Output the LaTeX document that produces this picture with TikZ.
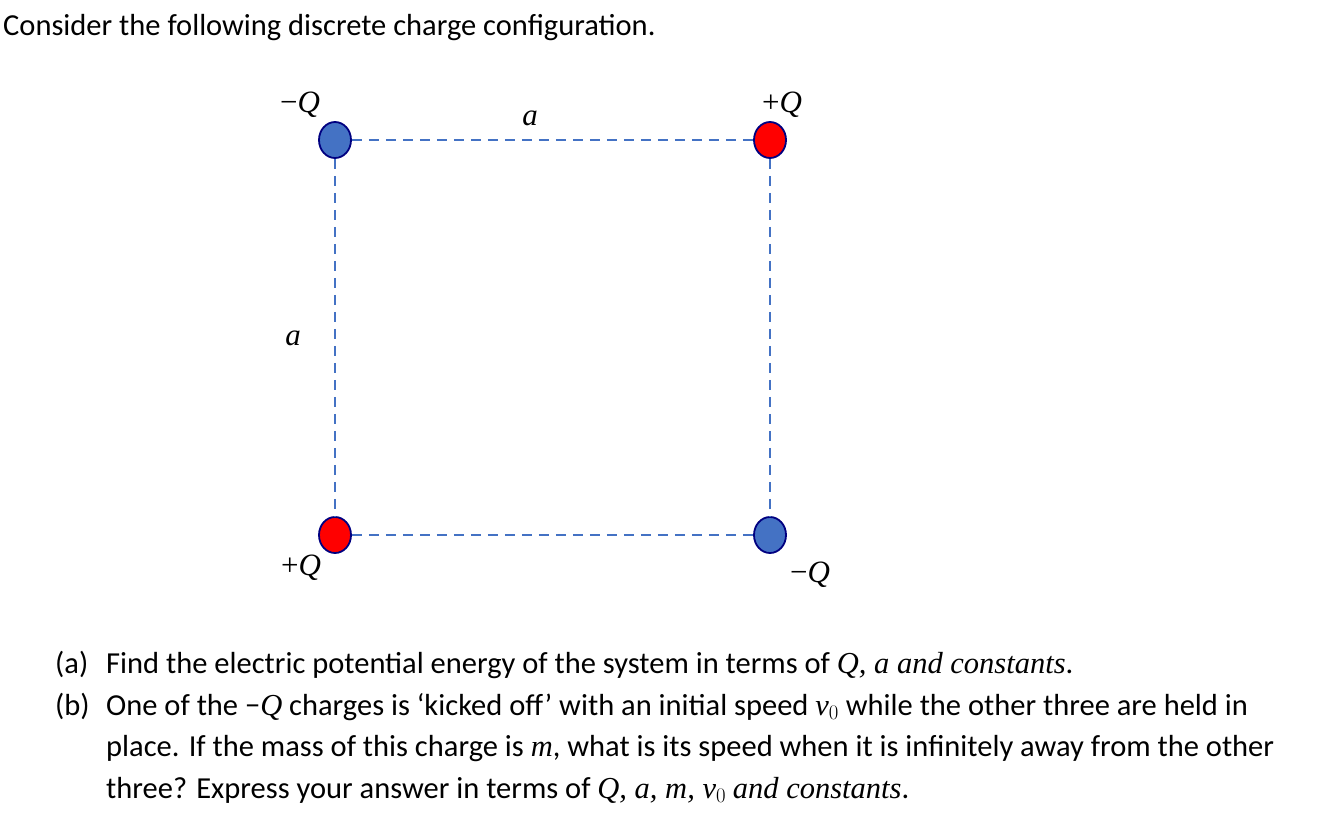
\documentclass[tikz,border=0pt]{standalone}
\usepackage{fontspec}
\usetikzlibrary{shapes.geometric}
\setmainfont{Carlito}
\newfontfamily\mathf{Liberation Serif}
\newcommand{\mi}[1]{{\mathf\itshape #1}}
\begin{document}
\begin{tikzpicture}[x=1pt,y=-1pt,
  chg/.style={ellipse,minimum width=32pt,minimum height=36pt,inner sep=0pt,draw=blue!50!black,line width=1.8pt},
  negchg/.style={chg,fill={rgb,255:red,68;green,114;blue,196}},
  poschg/.style={chg,fill=red},
  dl/.style={dash pattern=on 10pt off 7pt,line width=2pt,draw={rgb,255:red,68;green,114;blue,196}},
  lab/.style={font=\fontsize{31}{34}\selectfont\mathf\itshape,inner sep=0pt},
  txt/.style={font=\fontsize{30.5}{34}\selectfont,anchor=base west,inner sep=0pt}]
\useasboundingbox (0,0) rectangle (1334,820);
\node[negchg] (tl) at (335,140) {};
\node[poschg] (tr) at (770,140) {};
\node[poschg] (bl) at (335,535) {};
\node[negchg] (br) at (770,535) {};
\draw[dl] (tl) -- (tr);
\draw[dl] (tl) -- (bl);
\draw[dl] (bl) -- (br);
\draw[dl] (tr) -- (br);
\node[lab] (l1) at (300,105) {\upshape−\itshape Q};
\node[lab] (l2) at (530,118) {a};
\node[lab] (l3) at (782,105) {\upshape+\itshape Q};
\node[lab] (l4) at (293,338) {a};
\node[lab] (l5) at (301,568) {\upshape+\itshape Q};
\node[lab] (l6) at (810,575) {\upshape−\itshape Q};
\node[txt] (t0) at (3,35) {Consider the following discrete charge configuration.};
\node[txt] (a0) at (55,673) {(a)};
\node[txt] (a1) at (106,673) {Find the electric potential energy of the system in terms of \mi{Q, a and constants}.};
\node[txt] (b0) at (55,715) {(b)};
\node[txt] (b1) at (106,715) {One of the −\mi{Q} charges is ‘kicked off’ with an initial speed \mi{v}$_0$ while the other three are held in};
\node[txt] (b2) at (106,756) {place. If the mass of this charge is \mi{m}, what is its speed when it is infinitely away from the other};
\node[txt] (b3) at (106,798) {three? Express your answer in terms of \mi{Q, a, m, v}$_0$ \mi{and constants}.};
\end{tikzpicture}
\end{document}
